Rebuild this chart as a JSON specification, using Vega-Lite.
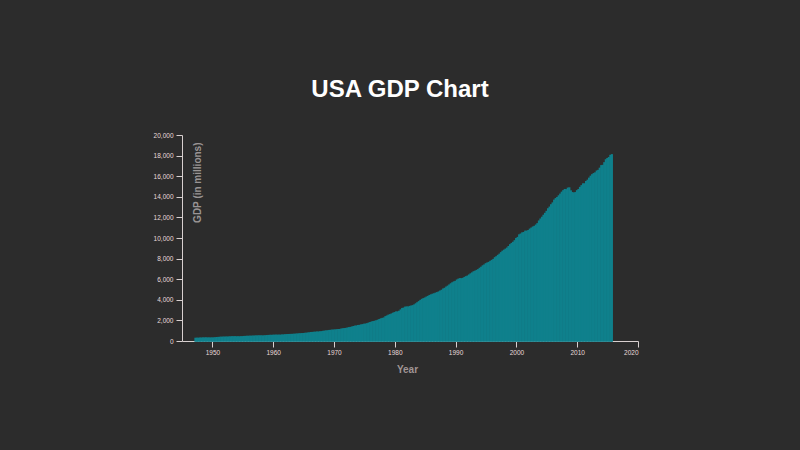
{
  "$schema": "https://vega.github.io/schema/vega-lite/v6.json",
  "description": "USA GDP, quarterly, 1947-2015.",
  "autosize": "none",
  "width": 456,
  "height": 206,
  "padding": {"left": 182, "top": 135, "right": 162, "bottom": 109},
  "background": "#2c2c2c",
  "title": {
    "text": "USA GDP Chart",
    "anchor": "middle",
    "frame": "group",
    "dx": -10,
    "offset": 11,
    "baseline": "alphabetic",
    "font": "Liberation Sans",
    "fontSize": 24,
    "fontWeight": "bold",
    "color": "#ffffff"
  },
  "data": {
    "values": [
      {"date": "1947-01-01", "gdp": 243.1}, {"date": "1947-04-01", "gdp": 246.3}, {"date": "1947-07-01", "gdp": 250.1}, {"date": "1947-10-01", "gdp": 260.3},
      {"date": "1948-01-01", "gdp": 266.2}, {"date": "1948-04-01", "gdp": 272.9}, {"date": "1948-07-01", "gdp": 279.5}, {"date": "1948-10-01", "gdp": 280.7},
      {"date": "1949-01-01", "gdp": 275.4}, {"date": "1949-04-01", "gdp": 271.7}, {"date": "1949-07-01", "gdp": 273.3}, {"date": "1949-10-01", "gdp": 271.0},
      {"date": "1950-01-01", "gdp": 281.2}, {"date": "1950-04-01", "gdp": 290.7}, {"date": "1950-07-01", "gdp": 308.5}, {"date": "1950-10-01", "gdp": 320.3},
      {"date": "1951-01-01", "gdp": 336.4}, {"date": "1951-04-01", "gdp": 344.5}, {"date": "1951-07-01", "gdp": 351.8}, {"date": "1951-10-01", "gdp": 356.6},
      {"date": "1952-01-01", "gdp": 360.2}, {"date": "1952-04-01", "gdp": 361.4}, {"date": "1952-07-01", "gdp": 368.1}, {"date": "1952-10-01", "gdp": 381.2},
      {"date": "1953-01-01", "gdp": 388.5}, {"date": "1953-04-01", "gdp": 392.3}, {"date": "1953-07-01", "gdp": 391.7}, {"date": "1953-10-01", "gdp": 386.5},
      {"date": "1954-01-01", "gdp": 385.9}, {"date": "1954-04-01", "gdp": 386.7}, {"date": "1954-07-01", "gdp": 391.6}, {"date": "1954-10-01", "gdp": 400.3},
      {"date": "1955-01-01", "gdp": 413.8}, {"date": "1955-04-01", "gdp": 422.2}, {"date": "1955-07-01", "gdp": 430.9}, {"date": "1955-10-01", "gdp": 437.8},
      {"date": "1956-01-01", "gdp": 440.5}, {"date": "1956-04-01", "gdp": 446.8}, {"date": "1956-07-01", "gdp": 452.0}, {"date": "1956-10-01", "gdp": 461.3},
      {"date": "1957-01-01", "gdp": 470.6}, {"date": "1957-04-01", "gdp": 472.8}, {"date": "1957-07-01", "gdp": 480.3}, {"date": "1957-10-01", "gdp": 475.7},
      {"date": "1958-01-01", "gdp": 468.4}, {"date": "1958-04-01", "gdp": 472.8}, {"date": "1958-07-01", "gdp": 486.7}, {"date": "1958-10-01", "gdp": 500.4},
      {"date": "1959-01-01", "gdp": 511.1}, {"date": "1959-04-01", "gdp": 524.2}, {"date": "1959-07-01", "gdp": 525.2}, {"date": "1959-10-01", "gdp": 529.3},
      {"date": "1960-01-01", "gdp": 543.3}, {"date": "1960-04-01", "gdp": 542.7}, {"date": "1960-07-01", "gdp": 546.0}, {"date": "1960-10-01", "gdp": 541.1},
      {"date": "1961-01-01", "gdp": 545.9}, {"date": "1961-04-01", "gdp": 557.4}, {"date": "1961-07-01", "gdp": 568.2}, {"date": "1961-10-01", "gdp": 581.6},
      {"date": "1962-01-01", "gdp": 595.2}, {"date": "1962-04-01", "gdp": 602.6}, {"date": "1962-07-01", "gdp": 609.6}, {"date": "1962-10-01", "gdp": 613.1},
      {"date": "1963-01-01", "gdp": 622.7}, {"date": "1963-04-01", "gdp": 631.8}, {"date": "1963-07-01", "gdp": 645.0}, {"date": "1963-10-01", "gdp": 654.8},
      {"date": "1964-01-01", "gdp": 671.1}, {"date": "1964-04-01", "gdp": 680.8}, {"date": "1964-07-01", "gdp": 692.8}, {"date": "1964-10-01", "gdp": 698.4},
      {"date": "1965-01-01", "gdp": 719.2}, {"date": "1965-04-01", "gdp": 732.4}, {"date": "1965-07-01", "gdp": 750.2}, {"date": "1965-10-01", "gdp": 773.1},
      {"date": "1966-01-01", "gdp": 797.3}, {"date": "1966-04-01", "gdp": 807.2}, {"date": "1966-07-01", "gdp": 820.8}, {"date": "1966-10-01", "gdp": 834.9},
      {"date": "1967-01-01", "gdp": 846.0}, {"date": "1967-04-01", "gdp": 851.1}, {"date": "1967-07-01", "gdp": 866.6}, {"date": "1967-10-01", "gdp": 883.2},
      {"date": "1968-01-01", "gdp": 911.1}, {"date": "1968-04-01", "gdp": 936.3}, {"date": "1968-07-01", "gdp": 952.3}, {"date": "1968-10-01", "gdp": 970.1},
      {"date": "1969-01-01", "gdp": 995.4}, {"date": "1969-04-01", "gdp": 1011.4}, {"date": "1969-07-01", "gdp": 1032.0}, {"date": "1969-10-01", "gdp": 1040.7},
      {"date": "1970-01-01", "gdp": 1053.5}, {"date": "1970-04-01", "gdp": 1070.1}, {"date": "1970-07-01", "gdp": 1088.5}, {"date": "1970-10-01", "gdp": 1091.5},
      {"date": "1971-01-01", "gdp": 1137.8}, {"date": "1971-04-01", "gdp": 1159.4}, {"date": "1971-07-01", "gdp": 1180.3}, {"date": "1971-10-01", "gdp": 1193.6},
      {"date": "1972-01-01", "gdp": 1233.8}, {"date": "1972-04-01", "gdp": 1270.1}, {"date": "1972-07-01", "gdp": 1293.8}, {"date": "1972-10-01", "gdp": 1332.0},
      {"date": "1973-01-01", "gdp": 1380.7}, {"date": "1973-04-01", "gdp": 1417.6}, {"date": "1973-07-01", "gdp": 1436.8}, {"date": "1973-10-01", "gdp": 1479.1},
      {"date": "1974-01-01", "gdp": 1494.7}, {"date": "1974-04-01", "gdp": 1534.2}, {"date": "1974-07-01", "gdp": 1563.4}, {"date": "1974-10-01", "gdp": 1603.0},
      {"date": "1975-01-01", "gdp": 1619.6}, {"date": "1975-04-01", "gdp": 1656.4}, {"date": "1975-07-01", "gdp": 1713.8}, {"date": "1975-10-01", "gdp": 1765.9},
      {"date": "1976-01-01", "gdp": 1824.5}, {"date": "1976-04-01", "gdp": 1856.9}, {"date": "1976-07-01", "gdp": 1890.5}, {"date": "1976-10-01", "gdp": 1938.4},
      {"date": "1977-01-01", "gdp": 1992.5}, {"date": "1977-04-01", "gdp": 2060.2}, {"date": "1977-07-01", "gdp": 2122.4}, {"date": "1977-10-01", "gdp": 2168.7},
      {"date": "1978-01-01", "gdp": 2208.7}, {"date": "1978-04-01", "gdp": 2336.6}, {"date": "1978-07-01", "gdp": 2398.9}, {"date": "1978-10-01", "gdp": 2482.2},
      {"date": "1979-01-01", "gdp": 2531.6}, {"date": "1979-04-01", "gdp": 2595.9}, {"date": "1979-07-01", "gdp": 2670.4}, {"date": "1979-10-01", "gdp": 2730.7},
      {"date": "1980-01-01", "gdp": 2796.5}, {"date": "1980-04-01", "gdp": 2799.9}, {"date": "1980-07-01", "gdp": 2860.0}, {"date": "1980-10-01", "gdp": 2993.5},
      {"date": "1981-01-01", "gdp": 3131.8}, {"date": "1981-04-01", "gdp": 3167.3}, {"date": "1981-07-01", "gdp": 3261.2}, {"date": "1981-10-01", "gdp": 3283.5},
      {"date": "1982-01-01", "gdp": 3273.8}, {"date": "1982-04-01", "gdp": 3331.3}, {"date": "1982-07-01", "gdp": 3367.1}, {"date": "1982-10-01", "gdp": 3407.8},
      {"date": "1983-01-01", "gdp": 3480.3}, {"date": "1983-04-01", "gdp": 3583.8}, {"date": "1983-07-01", "gdp": 3692.3}, {"date": "1983-10-01", "gdp": 3796.1},
      {"date": "1984-01-01", "gdp": 3912.8}, {"date": "1984-04-01", "gdp": 4015.0}, {"date": "1984-07-01", "gdp": 4087.4}, {"date": "1984-10-01", "gdp": 4147.6},
      {"date": "1985-01-01", "gdp": 4237.0}, {"date": "1985-04-01", "gdp": 4302.3}, {"date": "1985-07-01", "gdp": 4394.6}, {"date": "1985-10-01", "gdp": 4453.1},
      {"date": "1986-01-01", "gdp": 4516.3}, {"date": "1986-04-01", "gdp": 4555.2}, {"date": "1986-07-01", "gdp": 4619.6}, {"date": "1986-10-01", "gdp": 4669.4},
      {"date": "1987-01-01", "gdp": 4736.2}, {"date": "1987-04-01", "gdp": 4821.5}, {"date": "1987-07-01", "gdp": 4900.5}, {"date": "1987-10-01", "gdp": 5022.7},
      {"date": "1988-01-01", "gdp": 5090.6}, {"date": "1988-04-01", "gdp": 5207.7}, {"date": "1988-07-01", "gdp": 5299.5}, {"date": "1988-10-01", "gdp": 5412.7},
      {"date": "1989-01-01", "gdp": 5527.4}, {"date": "1989-04-01", "gdp": 5628.4}, {"date": "1989-07-01", "gdp": 5711.6}, {"date": "1989-10-01", "gdp": 5763.4},
      {"date": "1990-01-01", "gdp": 5890.8}, {"date": "1990-04-01", "gdp": 5974.7}, {"date": "1990-07-01", "gdp": 6029.5}, {"date": "1990-10-01", "gdp": 6023.3},
      {"date": "1991-01-01", "gdp": 6054.9}, {"date": "1991-04-01", "gdp": 6143.6}, {"date": "1991-07-01", "gdp": 6218.4}, {"date": "1991-10-01", "gdp": 6279.3},
      {"date": "1992-01-01", "gdp": 6380.8}, {"date": "1992-04-01", "gdp": 6492.3}, {"date": "1992-07-01", "gdp": 6586.5}, {"date": "1992-10-01", "gdp": 6697.6},
      {"date": "1993-01-01", "gdp": 6748.2}, {"date": "1993-04-01", "gdp": 6829.6}, {"date": "1993-07-01", "gdp": 6904.2}, {"date": "1993-10-01", "gdp": 7032.8},
      {"date": "1994-01-01", "gdp": 7136.3}, {"date": "1994-04-01", "gdp": 7269.8}, {"date": "1994-07-01", "gdp": 7352.3}, {"date": "1994-10-01", "gdp": 7476.7},
      {"date": "1995-01-01", "gdp": 7545.3}, {"date": "1995-04-01", "gdp": 7604.9}, {"date": "1995-07-01", "gdp": 7706.5}, {"date": "1995-10-01", "gdp": 7799.5},
      {"date": "1996-01-01", "gdp": 7893.1}, {"date": "1996-04-01", "gdp": 8061.5}, {"date": "1996-07-01", "gdp": 8159.0}, {"date": "1996-10-01", "gdp": 8287.1},
      {"date": "1997-01-01", "gdp": 8402.1}, {"date": "1997-04-01", "gdp": 8551.9}, {"date": "1997-07-01", "gdp": 8691.8}, {"date": "1997-10-01", "gdp": 8788.3},
      {"date": "1998-01-01", "gdp": 8889.7}, {"date": "1998-04-01", "gdp": 8994.7}, {"date": "1998-07-01", "gdp": 9146.5}, {"date": "1998-10-01", "gdp": 9325.7},
      {"date": "1999-01-01", "gdp": 9447.1}, {"date": "1999-04-01", "gdp": 9557.0}, {"date": "1999-07-01", "gdp": 9712.3}, {"date": "1999-10-01", "gdp": 9926.1},
      {"date": "2000-01-01", "gdp": 10031.0}, {"date": "2000-04-01", "gdp": 10278.3}, {"date": "2000-07-01", "gdp": 10357.4}, {"date": "2000-10-01", "gdp": 10472.3},
      {"date": "2001-01-01", "gdp": 10508.1}, {"date": "2001-04-01", "gdp": 10638.4}, {"date": "2001-07-01", "gdp": 10639.5}, {"date": "2001-10-01", "gdp": 10701.3},
      {"date": "2002-01-01", "gdp": 10834.4}, {"date": "2002-04-01", "gdp": 10934.8}, {"date": "2002-07-01", "gdp": 11037.1}, {"date": "2002-10-01", "gdp": 11103.8},
      {"date": "2003-01-01", "gdp": 11230.1}, {"date": "2003-04-01", "gdp": 11370.7}, {"date": "2003-07-01", "gdp": 11625.1}, {"date": "2003-10-01", "gdp": 11816.8},
      {"date": "2004-01-01", "gdp": 11988.4}, {"date": "2004-04-01", "gdp": 12181.4}, {"date": "2004-07-01", "gdp": 12367.7}, {"date": "2004-10-01", "gdp": 12562.2},
      {"date": "2005-01-01", "gdp": 12813.7}, {"date": "2005-04-01", "gdp": 12974.1}, {"date": "2005-07-01", "gdp": 13205.4}, {"date": "2005-10-01", "gdp": 13381.6},
      {"date": "2006-01-01", "gdp": 13648.9}, {"date": "2006-04-01", "gdp": 13799.8}, {"date": "2006-07-01", "gdp": 13908.5}, {"date": "2006-10-01", "gdp": 14066.4},
      {"date": "2007-01-01", "gdp": 14233.2}, {"date": "2007-04-01", "gdp": 14422.3}, {"date": "2007-07-01", "gdp": 14569.7}, {"date": "2007-10-01", "gdp": 14685.3},
      {"date": "2008-01-01", "gdp": 14668.4}, {"date": "2008-04-01", "gdp": 14813.0}, {"date": "2008-07-01", "gdp": 14843.0}, {"date": "2008-10-01", "gdp": 14549.9},
      {"date": "2009-01-01", "gdp": 14383.9}, {"date": "2009-04-01", "gdp": 14340.4}, {"date": "2009-07-01", "gdp": 14384.1}, {"date": "2009-10-01", "gdp": 14566.5},
      {"date": "2010-01-01", "gdp": 14681.1}, {"date": "2010-04-01", "gdp": 14888.6}, {"date": "2010-07-01", "gdp": 15057.7}, {"date": "2010-10-01", "gdp": 15230.2},
      {"date": "2011-01-01", "gdp": 15238.4}, {"date": "2011-04-01", "gdp": 15460.9}, {"date": "2011-07-01", "gdp": 15587.1}, {"date": "2011-10-01", "gdp": 15785.3},
      {"date": "2012-01-01", "gdp": 15973.9}, {"date": "2012-04-01", "gdp": 16121.9}, {"date": "2012-07-01", "gdp": 16227.9}, {"date": "2012-10-01", "gdp": 16297.3},
      {"date": "2013-01-01", "gdp": 16475.4}, {"date": "2013-04-01", "gdp": 16541.4}, {"date": "2013-07-01", "gdp": 16749.3}, {"date": "2013-10-01", "gdp": 16999.9},
      {"date": "2014-01-01", "gdp": 17025.2}, {"date": "2014-04-01", "gdp": 17285.6}, {"date": "2014-07-01", "gdp": 17569.4}, {"date": "2014-10-01", "gdp": 17692.2},
      {"date": "2015-01-01", "gdp": 17783.6}, {"date": "2015-04-01", "gdp": 17998.3}, {"date": "2015-07-01", "gdp": 18064.7}
    ]
  },
  "mark": {"type": "bar", "color": "#0f808c", "stroke": "#0f808c", "strokeWidth": 1.6},
  "encoding": {
    "x": {
      "field": "date",
      "timeUnit": "utcyearquarter",
      "type": "temporal",
      "scale": {"domain": [{"year": 1945, "utc": true}, {"year": 2020, "utc": true}], "nice": false},
      "axis": {
        "title": "Year",
        "labelExpr": "utcFormat(datum.value, '%Y')",
        "values": [
          {"year": 1950, "utc": true}, {"year": 1960, "utc": true}, {"year": 1970, "utc": true}, {"year": 1980, "utc": true},
          {"year": 1990, "utc": true}, {"year": 2000, "utc": true}, {"year": 2010, "utc": true}, {"year": 2020, "utc": true}
        ],
        "grid": false,
        "domainColor": "#d8d0d0",
        "tickColor": "#d8d0d0",
        "tickSize": 6,
        "labelPadding": 2,
        "labelFont": "Liberation Sans",
        "labelFontSize": 6.5,
        "labelColor": "#e8dada",
        "titleFont": "Liberation Sans",
        "titleFontSize": 10,
        "titleFontWeight": "bold",
        "titleColor": "#a09595",
        "titleX": 225,
        "titleY": 31,
        "titleBaseline": "alphabetic",
        "titleAlign": "center"
      }
    },
    "y": {
      "field": "gdp",
      "type": "quantitative",
      "scale": {"domain": [0, 20000], "nice": false},
      "axis": {
        "title": "GDP (in millions)",
        "format": ",d",
        "values": [0, 2000, 4000, 6000, 8000, 10000, 12000, 14000, 16000, 18000, 20000],
        "grid": false,
        "domainColor": "#d8d0d0",
        "tickColor": "#d8d0d0",
        "tickSize": 6,
        "labelPadding": 3,
        "labelFont": "Liberation Sans",
        "labelFontSize": 6.5,
        "labelColor": "#e8dada",
        "titleFont": "Liberation Sans",
        "titleFontSize": 10,
        "titleFontWeight": "bold",
        "titleColor": "#9a9595",
        "titleAngle": -90,
        "titleAlign": "right",
        "titleBaseline": "middle",
        "titleX": 15,
        "titleY": 7
      }
    }
  },
  "config": {"view": {"stroke": null}}
}
